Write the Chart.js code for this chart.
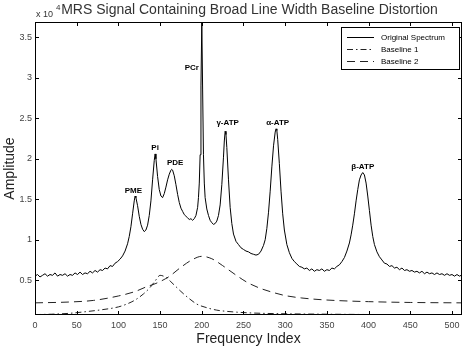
<!DOCTYPE html>
<html>
<head>
<meta charset="utf-8">
<script src="https://cdn.jsdelivr.net/npm/chart.js@4.4.0/dist/chart.umd.min.js"></script>
<style>
html, body { margin: 0; padding: 0; background: #fff; }
#wrap { width: 474px; height: 353px; }
</style>
</head>
<body>
<div id="wrap"><canvas id="mrsChart" width="474" height="353"></canvas></div>
<script>
const FONT = '"Liberation Sans", Arial, sans-serif';

// original spectrum (amplitude in units of 1e4)
const specX = [0,3,6,9,12,15,18,21,24,27,30,33,36,39,42,45,48,51,54,57,60,63,66,69,72,75,78,81,84,87,90,93,96,99,
    102,105,108,111,113,115,117,119,120,121,123,125,127,129,131,133,135,137,139,141,143,144,145,147,149,151,153,155,
    157,159,161,163,164,165,167,169,171,173,175,177,179,181,183,185,187,189,191,193,195,196,197,198,199,200,201,202,
    203,204,206,208,210,212,214,216,218,220,222,224,226,227,228,229,230,232,234,236,238,241,244,247,250,253,256,259,
    262,265,268,271,274,276,278,280,282,284,286,288,289,290,291,293,295,297,299,302,305,308,311,314,317,320,323,326,
    329,332,335,338,341,344,347,350,353,356,359,362,365,368,371,374,377,379,381,383,385,387,389,391,393,395,397,399,
    401,403,405,407,410,413,416,419,422,425,428,431,434,437,440,443,446,449,452,455,458,461,464,467,470,473,476,479,
    482,485,488,491,494,497,500,503,506,509,511];
const specY = [0.55,0.57,0.54,0.56,0.58,0.55,0.57,0.56,0.59,0.55,0.57,0.56,0.58,0.55,0.57,0.56,0.59,0.57,0.60,0.57,
    0.59,0.58,0.61,0.59,0.62,0.60,0.63,0.62,0.65,0.64,0.68,0.67,0.71,0.73,
    0.76,0.80,0.86,0.95,1.04,1.16,1.32,1.48,1.54,1.52,1.42,1.29,1.19,1.13,1.10,1.12,1.18,1.30,1.48,1.74,1.98,2.06,2.00,
    1.78,1.62,1.54,1.52,1.57,1.65,1.74,1.81,1.86,1.87,1.86,1.79,1.68,1.56,1.46,1.39,1.35,1.31,1.29,1.27,1.25,1.26,1.24,
    1.26,1.30,1.40,1.52,1.70,2.05,2.90,3.69,2.85,2.05,
    1.70,1.52,1.38,1.30,1.24,1.21,1.19,1.20,1.23,1.30,1.43,1.68,2.02,2.22,2.34,2.30,2.14,1.74,1.40,1.20,1.07,0.98,0.94,
    0.90,0.88,0.86,0.85,0.83,0.82,0.81,0.82,0.86,0.93,1.00,1.14,1.34,1.60,1.90,2.16,2.33,2.37,2.35,2.24,1.94,1.60,1.32,
    1.12,0.94,0.84,0.77,0.73,0.70,0.67,0.66,0.64,0.65,0.62,0.64,0.61,0.63,0.62,0.64,0.61,0.63,0.62,0.65,0.64,0.67,0.69,
    0.73,0.78,0.86,0.96,1.06,1.18,1.32,1.48,1.62,1.74,1.80,1.83,1.80,1.70,1.54,1.36,1.18,1.04,0.94,0.85,0.79,0.75,0.71,
    0.70,0.67,0.68,0.65,0.66,0.63,0.65,0.62,0.63,0.61,0.62,0.60,0.61,0.59,0.61,0.58,0.60,0.58,0.59,0.57,0.59,0.57,0.58,
    0.56,0.58,0.56,0.57,0.55,0.57,0.55,0.56];

// baseline 1 (dash-dot)
const base1X = [0,20,40,60,80,100,110,120,130,138,144,150,156,162,168,174,184,194,206,218,230,242,260,300,350,400,450,511];
const base1Y = [0.075,0.08,0.09,0.11,0.135,0.17,0.205,0.255,0.33,0.41,0.49,0.56,0.54,0.49,0.43,0.37,0.28,0.205,0.16,
    0.13,0.115,0.105,0.095,0.085,0.08,0.076,0.073,0.072];

// baseline 2 (dashed)
const base2X = [0,40,70,100,120,134,145,160,175,188,200,212,225,240,255,270,285,300,320,350,400,450,511];
const base2Y = [0.22,0.23,0.25,0.305,0.36,0.42,0.46,0.54,0.66,0.75,0.795,0.765,0.68,0.57,0.47,0.40,0.35,0.31,0.28,
    0.255,0.235,0.225,0.22];

const seriesNames = ['Original Spectrum', 'Baseline 1', 'Baseline 2'];

// peak annotations
const peakNames = ['PME', 'Pi', 'PDE', 'PCr', 'γ-ATP', 'α-ATP', 'β-ATP'];
const peakLabelX = [118, 144, 168, 188, 231, 291, 393];
const peakLabelY = [1.60, 2.13, 1.95, 3.13, 2.44, 2.44, 1.90];

const xTicks = [0, 50, 100, 150, 200, 250, 300, 350, 400, 450, 500];
const yTicks = [0.5, 1, 1.5, 2, 2.5, 3, 3.5];

function toPoints(xs, ys) {
    return xs.map((x, i) => ({ x: x, y: ys[i] }));
}

const frameAndLabels = {
    id: 'frameAndLabels',
    afterDraw(chart) {
        const ctx = chart.ctx;
        const area = chart.chartArea;
        const xs = chart.scales.x;
        const ys = chart.scales.y;
        ctx.save();

        // axes box
        ctx.strokeStyle = '#000';
        ctx.lineWidth = 1;
        ctx.strokeRect(area.left + 0.5, area.top + 0.5, area.right - area.left - 1, area.bottom - area.top - 1);

        // inward ticks on all four sides
        ctx.beginPath();
        xTicks.forEach(v => {
            const px = Math.round(xs.getPixelForValue(v)) + 0.5;
            ctx.moveTo(px, area.bottom); ctx.lineTo(px, area.bottom - 4);
            ctx.moveTo(px, area.top); ctx.lineTo(px, area.top + 4);
        });
        yTicks.forEach(v => {
            const py = Math.round(ys.getPixelForValue(v)) + 0.5;
            ctx.moveTo(area.left, py); ctx.lineTo(area.left + 4, py);
            ctx.moveTo(area.right, py); ctx.lineTo(area.right - 4, py);
        });
        ctx.stroke();

        // title and exponent
        ctx.fillStyle = '#333';
        ctx.textBaseline = 'middle';
        ctx.textAlign = 'center';
        ctx.font = '14px ' + FONT;
        ctx.fillText('MRS Signal Containing Broad Line Width Baseline Distortion', (area.left + area.right) / 2 + 1, 10);
        ctx.textAlign = 'left';
        ctx.font = '9px ' + FONT;
        ctx.fillText('x 10', area.left + 1, 15);
        ctx.font = '8px ' + FONT;
        ctx.fillText('4', area.left + 21, 8);

        // peak labels
        ctx.fillStyle = '#000';
        ctx.textAlign = 'center';
        ctx.font = 'bold 8px ' + FONT;
        peakNames.forEach((name, i) => {
            ctx.fillText(name, xs.getPixelForValue(peakLabelX[i]), ys.getPixelForValue(peakLabelY[i]));
        });

        // legend box
        const lx = 341, ly = 27, lw = 118, lh = 42;
        ctx.fillStyle = '#fff';
        ctx.fillRect(lx, ly, lw, lh);
        ctx.strokeStyle = '#000';
        ctx.strokeRect(lx + 0.5, ly + 0.5, lw, lh);
        ctx.font = '8px ' + FONT;
        ctx.textAlign = 'left';
        chart.data.datasets.forEach((ds, i) => {
            const y = ly + 10.5 + i * 12;
            ctx.beginPath();
            ctx.setLineDash(ds.borderDash || []);
            ctx.strokeStyle = ds.borderColor;
            ctx.moveTo(lx + 6, y);
            ctx.lineTo(lx + 33, y);
            ctx.stroke();
            ctx.setLineDash([]);
            ctx.fillStyle = '#000';
            ctx.fillText(ds.label, lx + 40, y);
        });
        ctx.restore();
    }
};

const chart = new Chart(document.getElementById('mrsChart').getContext('2d'), {
    type: 'line',
    data: {
        datasets: [{
            label: seriesNames[0],
            data: toPoints(specX, specY),
            borderColor: '#000',
            borderWidth: 1,
            pointRadius: 0,
            tension: 0
        }, {
            label: seriesNames[1],
            data: toPoints(base1X, base1Y),
            borderColor: '#222',
            borderWidth: 1,
            borderDash: [6, 3, 1.5, 3],
            pointRadius: 0,
            cubicInterpolationMode: 'monotone'
        }, {
            label: seriesNames[2],
            data: toPoints(base2X, base2Y),
            borderColor: '#222',
            borderWidth: 1,
            borderDash: [8, 5],
            pointRadius: 0,
            cubicInterpolationMode: 'monotone'
        }]
    },
    options: {
        responsive: false,
        devicePixelRatio: 1,
        animation: false,
        layout: { padding: { top: 22, right: 12, left: 0, bottom: 0 } },
        plugins: {
            legend: { display: false },
            title: { display: false },
            tooltip: { enabled: false }
        },
        scales: {
            x: {
                type: 'linear',
                min: 0,
                max: 512,
                afterBuildTicks: s => { s.ticks = xTicks.map(v => ({ value: v })); },
                afterFit: s => { s.height = 38; },
                grid: { display: false, drawTicks: false },
                border: { display: false },
                ticks: {
                    callback: v => String(v),
                    autoSkip: false,
                    maxRotation: 0,
                    padding: 5,
                    color: '#444',
                    font: { family: FONT, size: 9 }
                },
                title: {
                    display: true,
                    text: 'Frequency Index',
                    color: '#222',
                    font: { family: FONT, size: 14 },
                    padding: { top: 0, bottom: 5 }
                }
            },
            y: {
                type: 'linear',
                min: 0.07,
                max: 3.69,
                afterBuildTicks: s => { s.ticks = yTicks.map(v => ({ value: v })); },
                afterFit: s => { s.width = 35; },
                grid: { display: false, drawTicks: false },
                border: { display: false },
                ticks: {
                    callback: v => String(v),
                    padding: 3,
                    color: '#444',
                    font: { family: FONT, size: 9 }
                },
                title: {
                    display: true,
                    text: 'Amplitude',
                    color: '#222',
                    font: { family: FONT, size: 14 },
                    padding: { top: 2, bottom: 0 }
                }
            }
        }
    },
    plugins: [frameAndLabels]
});
</script>
</body>
</html>
